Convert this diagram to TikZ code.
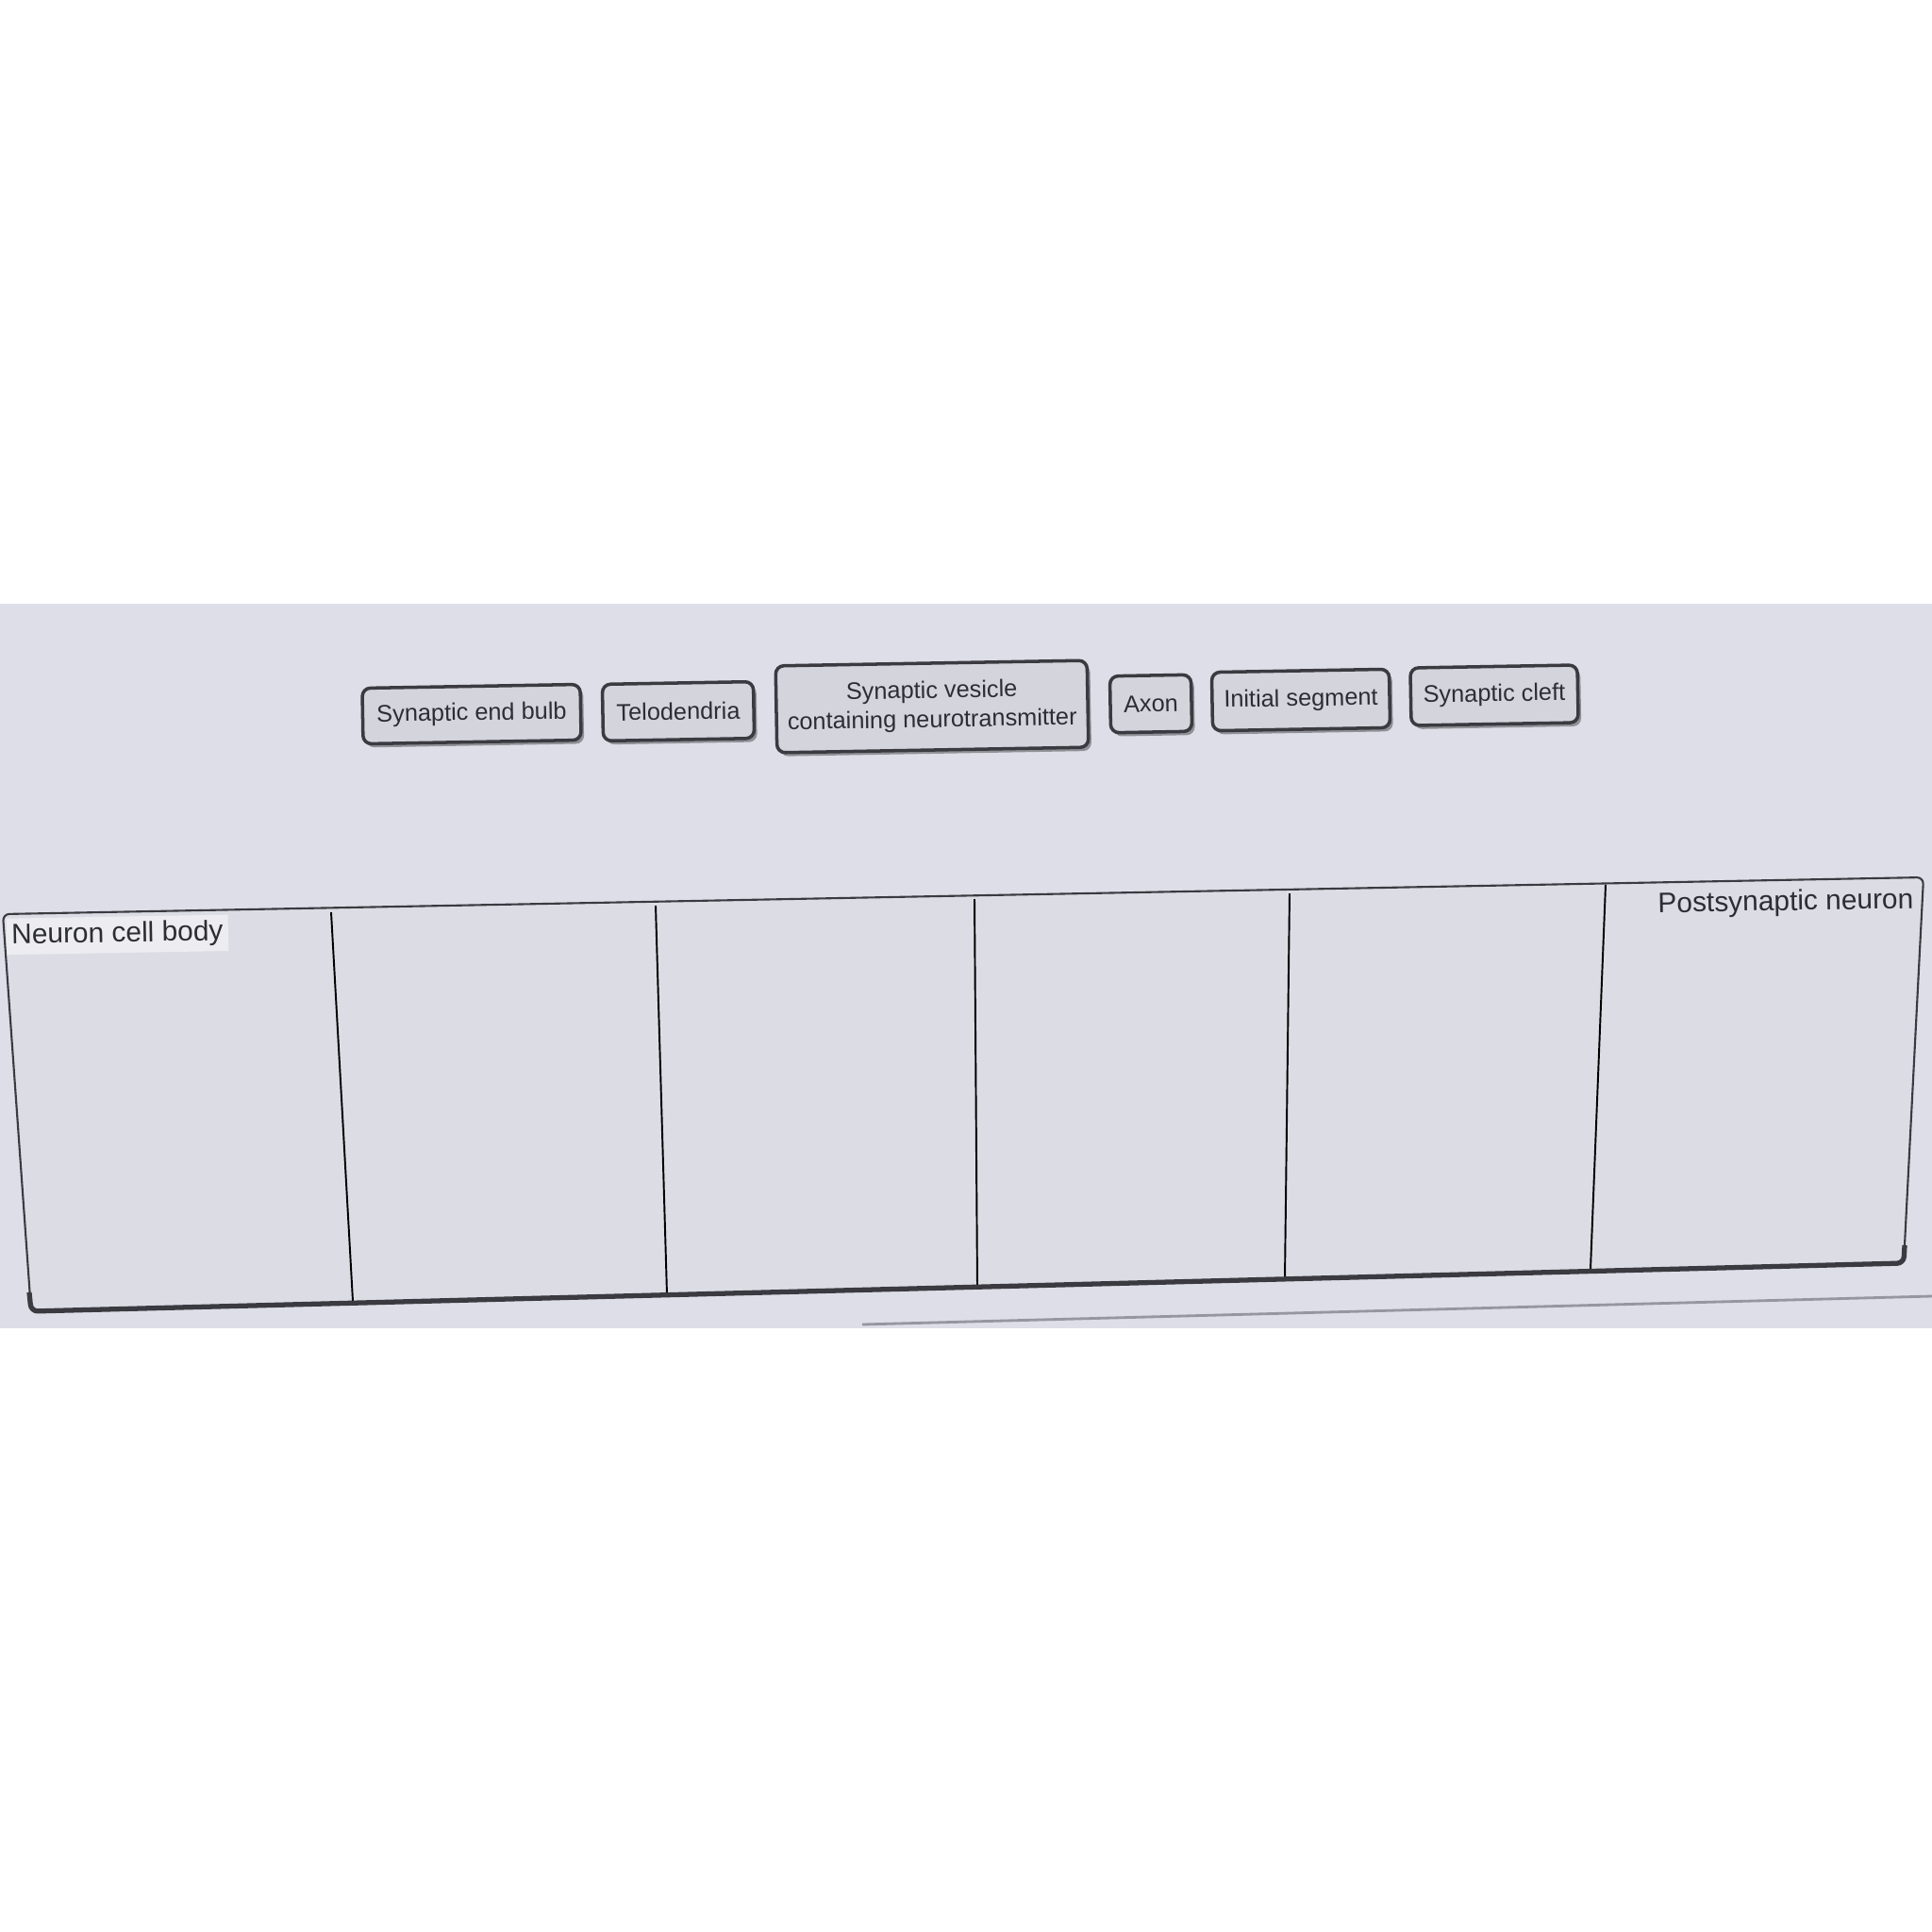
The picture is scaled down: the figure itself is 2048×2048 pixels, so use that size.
\documentclass[tikz,border=0pt]{standalone}
\usepackage{fontspec}
\setmainfont{Liberation Sans}
\usetikzlibrary{shadows, positioning}

\definecolor{band}{RGB}{222,222,232}
\definecolor{cellfill}{RGB}{220,220,229}
\definecolor{tagfill}{RGB}{212,212,221}
\definecolor{tagline}{RGB}{58,58,64}
\definecolor{inkgray}{RGB}{45,45,52}
\definecolor{edgegray}{RGB}{150,150,160}

\begin{document}
\begin{tikzpicture}[x=0.01cm, y=-0.01cm,
    tag/.style={draw=tagline, line width=1pt, fill=tagfill, rounded corners=2.5pt,
        align=center, inner sep=1pt, text=inkgray, rotate=1,
        font=\fontsize{7.2}{8.8}\selectfont,
        drop shadow={shadow xshift=0.9pt, shadow yshift=-1.1pt, fill=black, opacity=0.35}},
    celltext/.style={inner sep=1.5pt, text=inkgray, rotate=1, font=\fontsize{8.5}{10}\selectfont}]

        \useasboundingbox (0,0) rectangle (2048,2048);
        \fill[white] (0,0) rectangle (2048,2048);
        \fill[band] (0,640) rectangle (2048,1408);  % screen band
        \draw[edgegray, line width=0.8pt] (914,1404) -- (2048,1374);

        % answer tags
        \node[tag, minimum width=2.31cm, minimum height=0.59cm] (endbulb) at (500,757) {Synaptic end bulb};
        \node[tag, minimum width=1.60cm, minimum height=0.60cm] (telo) at (719,754) {Telodendria};
        \node[tag, minimum width=3.30cm, minimum height=0.92cm] (vesicle) at (988,749) {Synaptic vesicle\\containing neurotransmitter};
        \node[tag, minimum width=0.86cm, minimum height=0.60cm] (axon) at (1220,746) {Axon};
        \node[tag, minimum width=1.88cm, minimum height=0.62cm] (initseg) at (1379,742) {Initial segment};
        \node[tag, minimum width=1.77cm, minimum height=0.61cm] (cleft) at (1584,737) {Synaptic cleft};

        % target table
        \fill[cellfill, rounded corners=2pt] (3,969) -- (33,1390) -- (2018,1339) -- (2039,930) -- cycle;
        \foreach \xt/\yt/\xb/\yb in {351/967/374/1379, 695/960/707/1372, 1033/953/1036/1364, 1367/947/1362/1355, 1702/938/1686/1345}
            \draw[black, line width=0.55pt] (\xt,\yt) -- (\xb,\yb);
        \draw[tagline, line width=0.6pt, rounded corners=2pt] (3,969) -- (33,1390) -- (2018,1339) -- (2039,930) -- cycle;
        \draw[tagline, line width=1.5pt, rounded corners=2pt] (31,1370) -- (33,1390) -- (2018,1339) -- (2019,1320);

        \node[celltext, anchor=north west, fill=white!45!cellfill] (cellbody) at (6,973) {Neuron cell body};
        \node[celltext, anchor=north east] (postsyn) at (2034,935) {Postsynaptic neuron};

\end{tikzpicture}
\end{document}
